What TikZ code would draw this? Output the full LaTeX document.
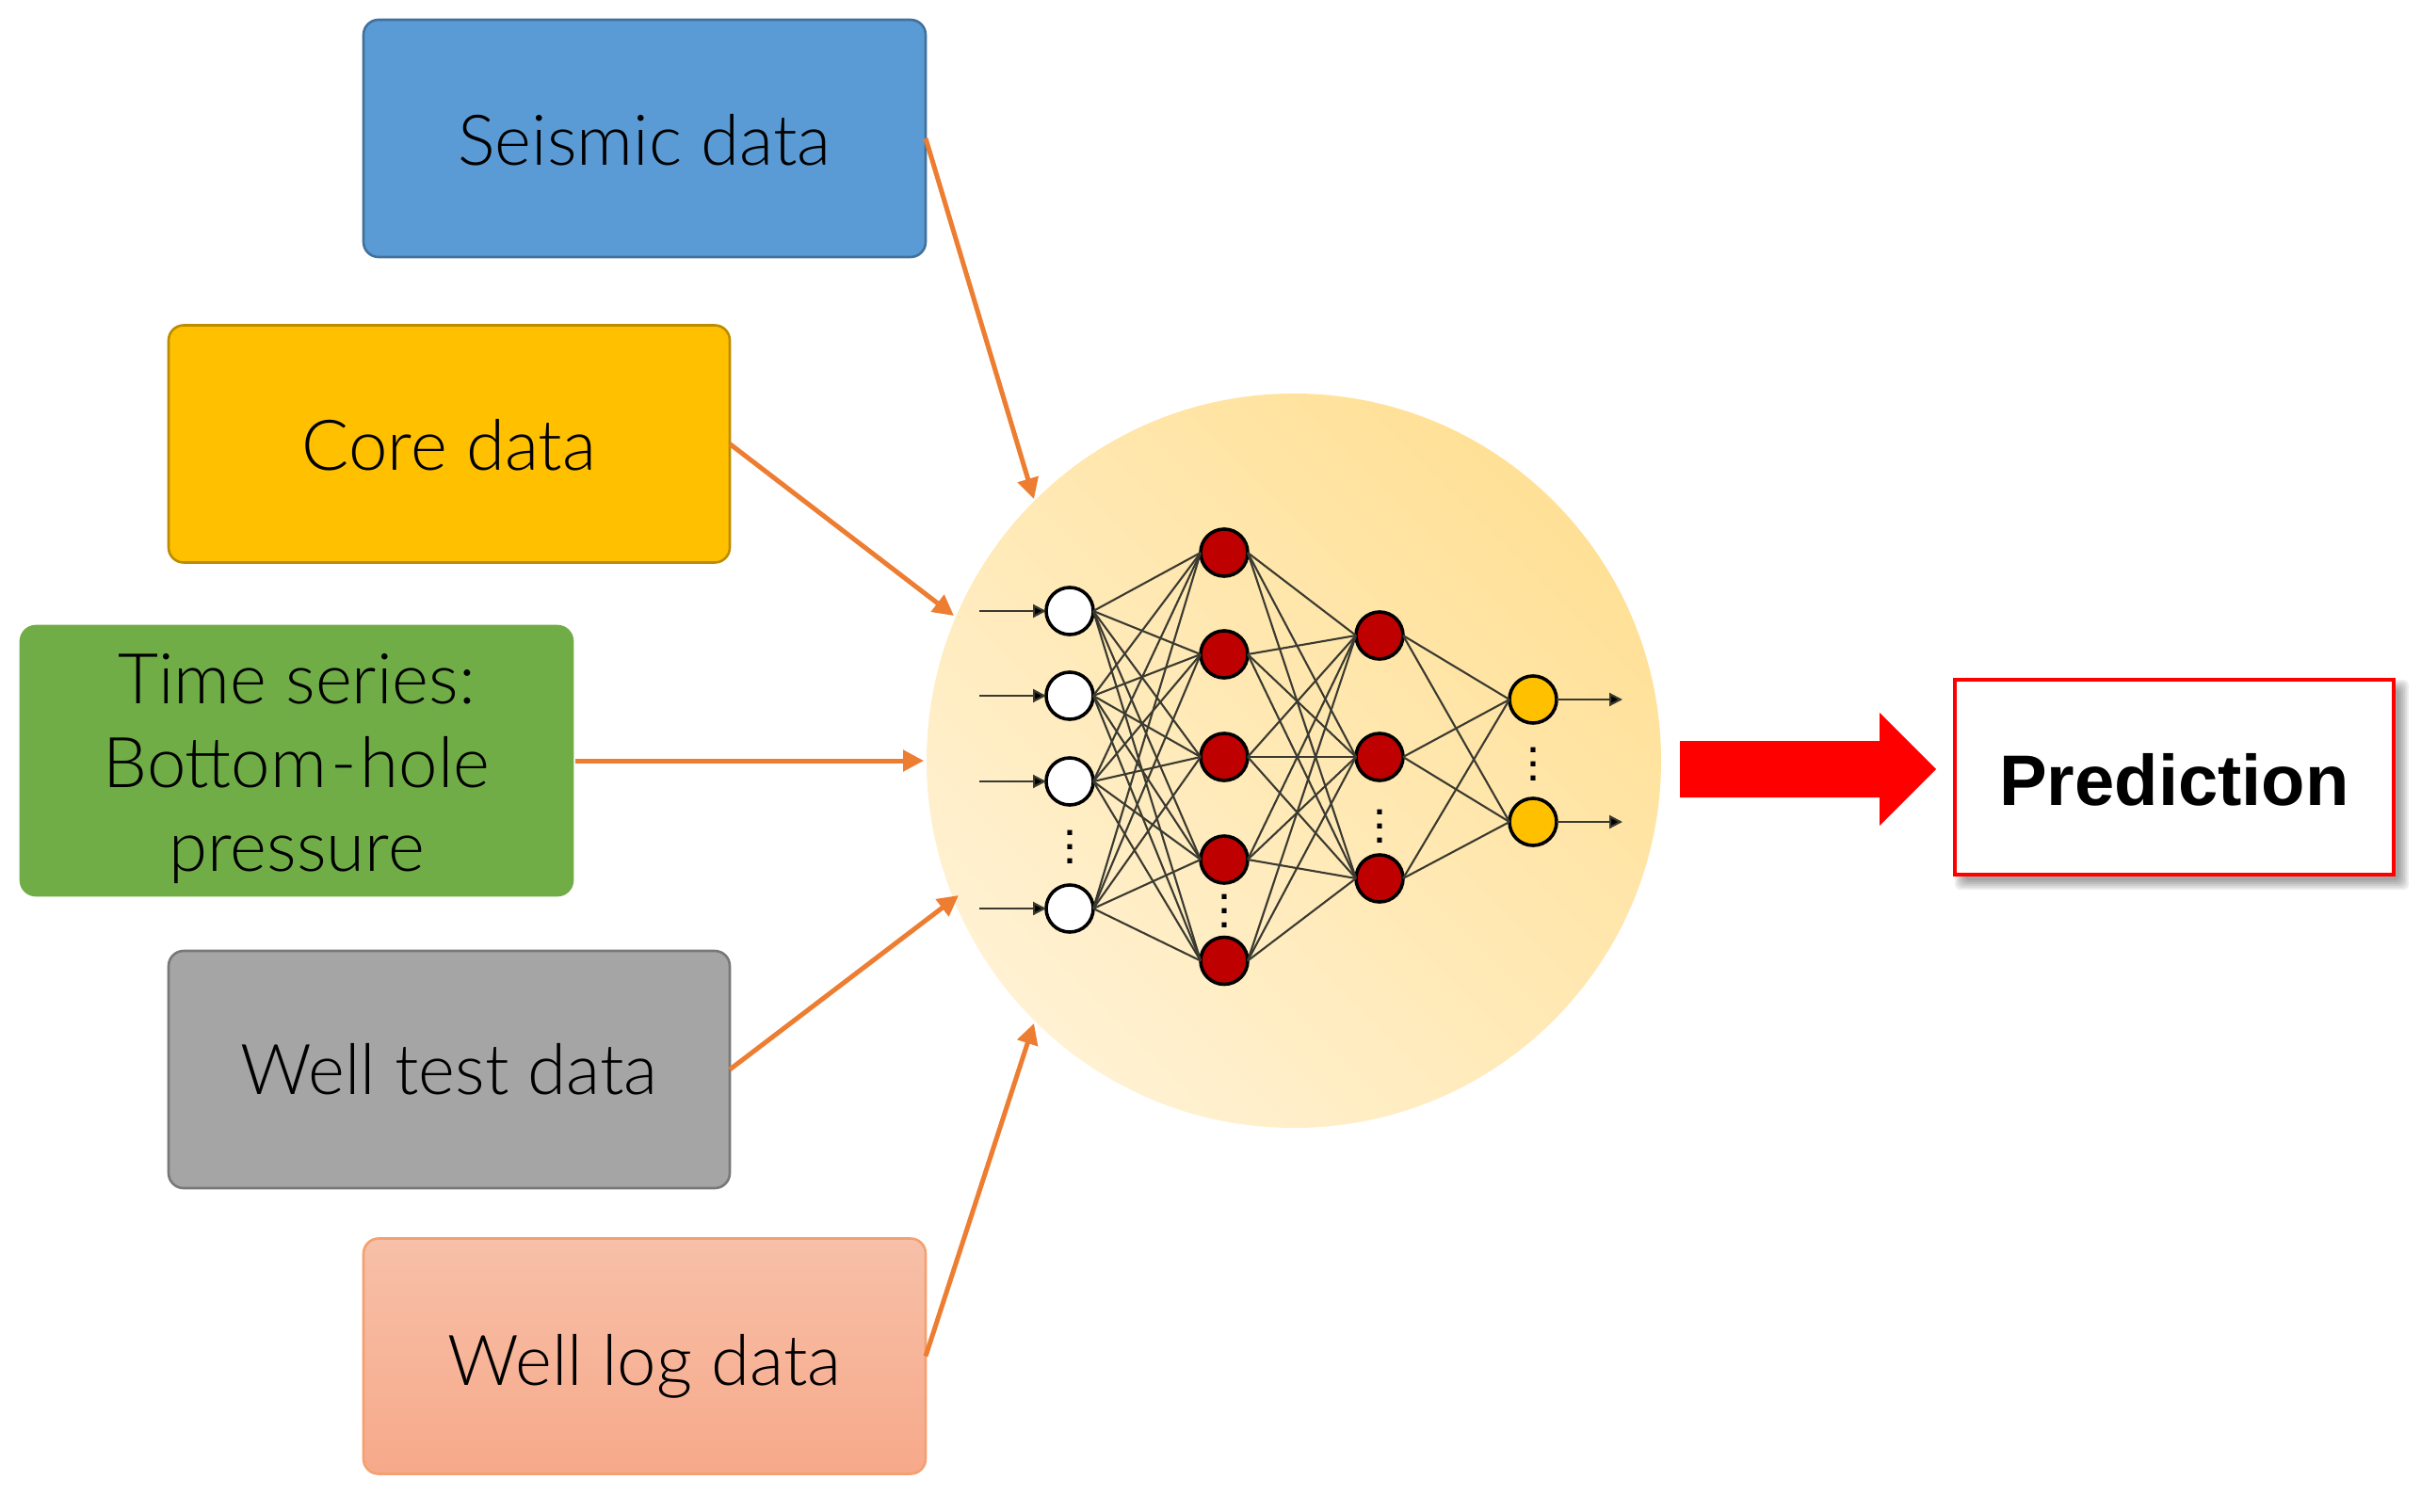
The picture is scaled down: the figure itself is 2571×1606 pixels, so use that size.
\documentclass[tikz,border=0pt]{standalone}
\usepackage{fontspec}
\setmainfont{Lato Light}
\newfontfamily\predfont{Liberation Sans Bold}
\usetikzlibrary{arrows.meta,calc}
\definecolor{feed}{HTML}{ED7D31}
\definecolor{netred}{HTML}{BE0000}
\definecolor{netyel}{HTML}{FFC000}
\definecolor{linkc}{HTML}{3A3A30}
\definecolor{glow}{HTML}{FFF1D2}
\definecolor{glowdk}{HTML}{FFE096}
\definecolor{seisf}{HTML}{5B9BD5}
\definecolor{seisd}{HTML}{41719C}
\definecolor{coref}{HTML}{FFC000}
\definecolor{cored}{HTML}{BC8C00}
\definecolor{timef}{HTML}{70AD47}
\definecolor{testf}{HTML}{A5A5A5}
\definecolor{testd}{HTML}{787878}
\definecolor{logt}{HTML}{F7C0A8}
\definecolor{logb}{HTML}{F7A98A}
\definecolor{logd}{HTML}{F4A070}
\newcommand{\stackeddots}{\vbox{\fontsize{18}{7.5}\predfont\baselineskip=7.5pt\lineskiplimit=-10pt\hbox{.}\hbox{.}\hbox{.}}}
\tikzset{
  box/.style={rounded corners=8pt,draw,line width=1.3pt,inner sep=0pt,outer sep=0pt,text=black,
     font=\fontsize{37.2}{44.3}\selectfont,align=center},
  wide/.style={minimum width=298.5pt,minimum height=126pt},
  feedarrow/.style={draw=feed,line width=2.5pt,-{Triangle[length=11pt,width=11pt]}},
  unit/.style={circle,draw=black,line width=1.8pt,inner sep=0pt,outer sep=0pt,minimum size=25pt},
  link/.style={draw=linkc,line width=1.05pt},
  iot/.style={draw=linkc,line width=1.05pt,-{Triangle[length=7pt,width=7pt,fill=black]}},
  dots/.style={inner sep=0pt,text=black},
}
\begin{document}
\begin{tikzpicture}[x=0.5pt,y=-0.5pt]
\useasboundingbox (0,0) rectangle (2571,1606);
% big circle
\node[circle,minimum size=390pt,inner sep=0pt,outer sep=0pt,left color=glow,right color=glowdk,shading angle=135] (net) at (1374,808) {};
% input boxes
\node[box,wide,fill=seisf,draw=seisd,text height=28.5pt,text depth=0pt] (seis) at (684.5,147) {Seismic data};
\node[box,minimum width=298pt,minimum height=126pt,fill=coref,draw=cored,text height=27.5pt,text depth=0pt] (core) at (477,471.5) {Core data};
\node[box,minimum width=293pt,minimum height=143pt,fill=timef,draw=timef] (time) at (315,808) {\rule{0pt}{35pt}Time series:\\Bottom\kern2pt-\kern2pt hole\\pressure};
\node[box,minimum width=298pt,minimum height=126pt,fill=testf,draw=testd,text height=26pt,text depth=0pt] (test) at (477,1136) {Well test data};
\node[box,wide,minimum height=125pt,top color=logt,bottom color=logb,draw=logd,text height=31pt,text depth=0pt] (log) at (684.5,1440.5) {Well log data};
% feed arrows
\coordinate (tipseis) at (1098,530);
\coordinate (tipcore) at (1013,654);
\coordinate (tiptime) at (981,808);
\coordinate (tiptest) at (1018,951);
\coordinate (tiplog) at (1098,1087);
\draw[feedarrow] (seis.east) -- (tipseis);
\draw[feedarrow] (core.east) -- (tipcore);
\draw[feedarrow] (time.east) ++(3,0) -- (tiptime);
\draw[feedarrow] (test.east) -- (tiptest);
\draw[feedarrow] (log.east) -- (tiplog);
% network units
\foreach \n/\y in {1/649,2/739,3/830,4/965}
  \node[unit,fill=white] (a\n) at (1136,\y) {};
\foreach \n/\y in {1/587,2/695,3/804,4/913,5/1020.5}
  \node[unit,fill=netred] (b\n) at (1300,\y) {};
\foreach \n/\y in {1/675,2/804,3/933}
  \node[unit,fill=netred] (c\n) at (1465,\y) {};
\foreach \n/\y in {1/743,2/873}
  \node[unit,fill=netyel] (d\n) at (1628,\y) {};
% links
\foreach \i in {1,...,4}\foreach \j in {1,...,5}
  \draw[link] (a\i.east) -- (b\j.west);
\foreach \i in {1,...,5}\foreach \j in {1,...,3}
  \draw[link] (b\i.east) -- (c\j.west);
\foreach \i in {1,...,3}\foreach \j in {1,2}
  \draw[link] (c\i.east) -- (d\j.west);
% inputs and outputs
\foreach \n/\y in {1/649,2/739,3/830,4/965}{
  \coordinate (in\n) at (1040,\y);
  \draw[iot] (in\n) -- (a\n.west);
}
\foreach \n/\y in {1/743,2/873}{
  \coordinate (out\n) at (1723,\y);
  \draw[iot] (d\n.east) -- (out\n);
}
% dots
\node[dots] (va) at (1136,900) {\stackeddots};
\node[dots] (vb) at (1300,968) {\stackeddots};
\node[dots] (vc) at (1465,878) {\stackeddots};
\node[dots] (vd) at (1628,812) {\stackeddots};
% red block arrow
\fill[red] (1784,787) -- (1996,787) -- (1996,757) -- (2056,817) -- (1996,877) -- (1996,847) -- (1784,847) -- cycle;
% prediction box with soft shadow
\foreach \g in {0,2,4,6,8,10}
  \fill[black,opacity=0.07,rounded corners=3pt] ({2078-\g+8},{724-\g+8}) rectangle ({2540+\g+8},{927+\g+8});
\node[draw=red,fill=white,line width=2pt,inner sep=0pt,outer sep=0pt,minimum width=233pt,minimum height=103.5pt,
      font=\fontsize{38}{48}\predfont,text=black,text height=30pt,text depth=0pt] (pred) at (2309,825.5) {Prediction};
\end{tikzpicture}
\end{document}
